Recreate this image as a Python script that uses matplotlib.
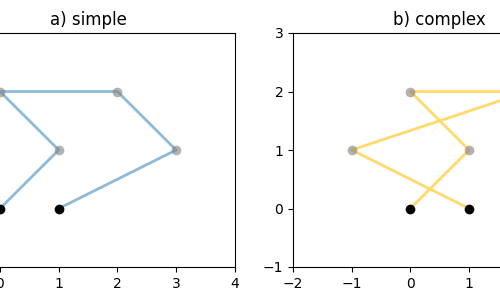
import matplotlib
matplotlib.use("Agg")
import matplotlib.pyplot as plt

# data
simple_x = [0, 1, 0, 2, 3, 1]
simple_y = [0, 1, 2, 2, 1, 0]
complex_x = [0, 1, 0, 2, -1, 1]
complex_y = [0, 1, 2, 2, 1, 0]
titles = ["a) simple", "b) complex"]
xlims = [(-1, 4), (-2, 3)]
ylim = (-1, 3)
line_colors = ["#1f77b4", "#ffc107"]

fig = plt.figure(figsize=(5, 3), dpi=100)
ax1 = fig.add_axes([-0.1174, 0.11, 0.587, 0.78])
ax2 = fig.add_axes([0.586, 0.11, 0.587, 0.78])

for ax, xs, ys, title, xl, lc in zip([ax1, ax2], [simple_x, complex_x],
                                     [simple_y, complex_y], titles, xlims, line_colors):
    ax.plot(xs, ys, color=lc, alpha=0.5 if lc == "#1f77b4" else 0.6, lw=2, zorder=1)
    ax.plot(xs[1:-1], ys[1:-1], 'o', color='grey', alpha=0.6, ms=7, zorder=2,
            markeredgewidth=0)
    ax.plot([xs[0], xs[-1]], [ys[0], ys[-1]], 'o', color='black', ms=7, zorder=3,
            markeredgewidth=0)
    ax.set_xlim(*xl)
    ax.set_ylim(*ylim)
    ax.set_xticks(range(xl[0], xl[1] + 1))
    ax.set_yticks(range(ylim[0], ylim[1] + 1))
    ax.set_title(title)

fig.savefig("out.png", dpi=100)
